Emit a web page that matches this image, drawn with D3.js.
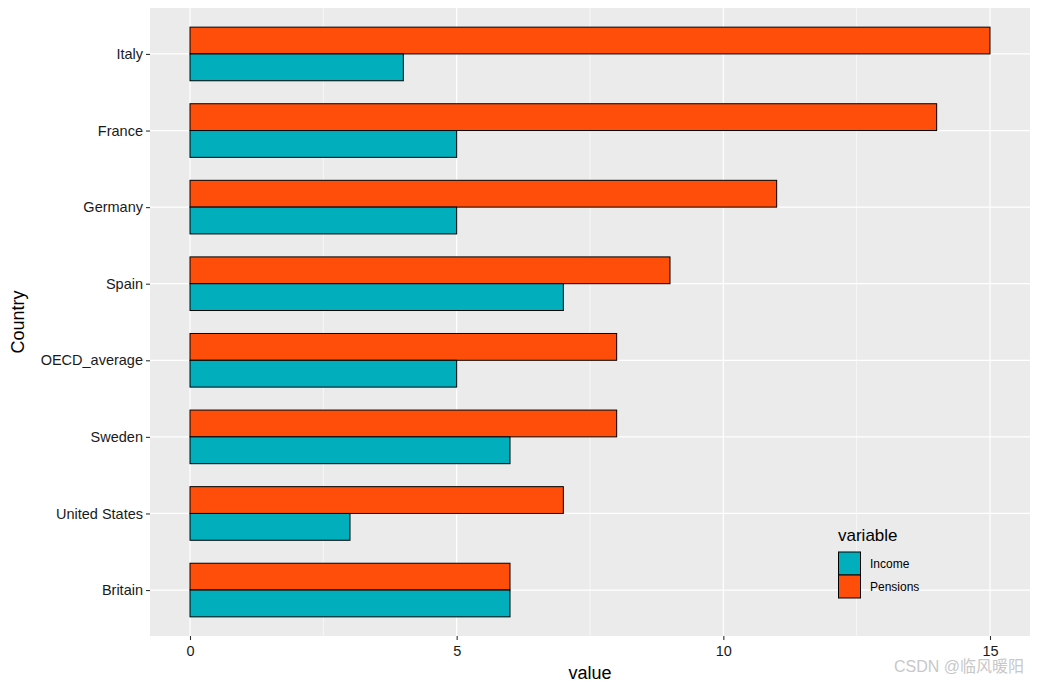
<!DOCTYPE html>
<html>
<head>
<meta charset="utf-8">
<script src="https://cdn.jsdelivr.net/npm/d3@7"></script>
<style>
  body { margin: 0; background: #fff; }
  text { font-family: "Liberation Sans", Arial, sans-serif; }
</style>
</head>
<body>
<svg id="chart" width="1039" height="685"></svg>
<script>
// data
var countries = ["Italy", "France", "Germany", "Spain", "OECD_average", "Sweden", "United States", "Britain"];
var variables = ["Income", "Pensions"];
var income = [4, 5, 5, 7, 5, 6, 3, 6];
var pensions = [15, 14, 11, 9, 8, 8, 7, 6];
var xTicks = [0, 5, 10, 15];
var colors = ["#00aebc", "#ff4e0a"];

var svg = d3.select("#chart");
var pLeft = 150, pRight = 1030, pTop = 8, pBottom = 636;

var x = d3.scaleLinear().domain([-0.75, 15.75]).range([pLeft, pRight]);
// ggplot discrete: centers at i, expanded 0.6 each side
var yc = d3.scalePoint().domain(countries).range([pTop, pBottom]).padding(0.6);
var step = yc.step();
var barH = step * 0.7 / 2;

var color = d3.scaleOrdinal().domain(variables).range(colors);

// panel
svg.append("rect").attr("x", pLeft).attr("y", pTop)
    .attr("width", pRight - pLeft).attr("height", pBottom - pTop)
    .attr("fill", "#ebebeb");

// minor grid
var minor = [2.5, 7.5, 12.5];
svg.selectAll("line.minor").data(minor).enter().append("line")
    .attr("x1", d => x(d)).attr("x2", d => x(d))
    .attr("y1", pTop).attr("y2", pBottom)
    .attr("stroke", "#fff").attr("stroke-width", 0.6);

// major grid
svg.selectAll("line.vx").data(xTicks).enter().append("line")
    .attr("x1", d => x(d)).attr("x2", d => x(d))
    .attr("y1", pTop).attr("y2", pBottom)
    .attr("stroke", "#fff").attr("stroke-width", 1.2);
svg.selectAll("line.hy").data(countries).enter().append("line")
    .attr("x1", pLeft).attr("x2", pRight)
    .attr("y1", d => yc(d)).attr("y2", d => yc(d))
    .attr("stroke", "#fff").attr("stroke-width", 1.2);

// bars
var rows = [];
countries.forEach(function(c, i) {
    rows.push({ country: c, variable: "Pensions", value: pensions[i], off: -1 });
    rows.push({ country: c, variable: "Income", value: income[i], off: 0 });
});
svg.selectAll("rect.bar").data(rows).enter().append("rect")
    .attr("x", x(0))
    .attr("y", d => yc(d.country) + d.off * barH)
    .attr("width", d => x(d.value) - x(0))
    .attr("height", barH)
    .attr("fill", d => color(d.variable))
    .attr("stroke", "#000").attr("stroke-width", 1);

// axes
var xAxis = svg.append("g").attr("transform", "translate(0," + pBottom + ")")
    .call(d3.axisBottom(x).tickValues(xTicks).tickSize(4).tickPadding(3));
var yAxis = svg.append("g").attr("transform", "translate(" + pLeft + ",0)")
    .call(d3.axisLeft(yc).tickSize(4).tickPadding(3));
[xAxis, yAxis].forEach(function(a) {
    a.select(".domain").remove();
    a.selectAll(".tick line").attr("stroke", "#333").attr("stroke-width", 1.1);
    a.selectAll(".tick text").attr("fill", "#1a1a1a").style("font-size", "14.5px");
});
xAxis.selectAll(".tick text").attr("dy", "0.9em");

svg.append("text").attr("x", (pLeft + pRight) / 2).attr("y", 679)
    .attr("text-anchor", "middle").style("font-size", "18px").text("value");
svg.append("text").attr("transform", "translate(24," + (pTop + pBottom) / 2 + ") rotate(-90)")
    .attr("text-anchor", "middle").style("font-size", "18px").text("Country");

// legend
var lg = svg.append("g").attr("transform", "translate(838,535)");
lg.append("text").attr("x", 0).attr("y", 6).style("font-size", "17px").text("variable");
variables.forEach(function(v, i) {
    lg.append("rect").attr("x", 0.5).attr("y", 17 + i * 23).attr("width", 22).attr("height", 23)
        .attr("fill", color(v)).attr("stroke", "#000").attr("stroke-width", 1);
    lg.append("text").attr("x", 32).attr("y", 29 + i * 23 + 4)
        .style("font-size", "12px").text(v);
});

// watermark
svg.append("text").attr("x", 1024).attr("y", 672).attr("text-anchor", "end")
    .attr("fill", "#c8c8c8").style("font-size", "16px")
    .style("font-family", "'Liberation Sans', 'Noto Sans CJK SC', sans-serif")
    .text("CSDN @临风暖阳");
</script>
</body>
</html>
